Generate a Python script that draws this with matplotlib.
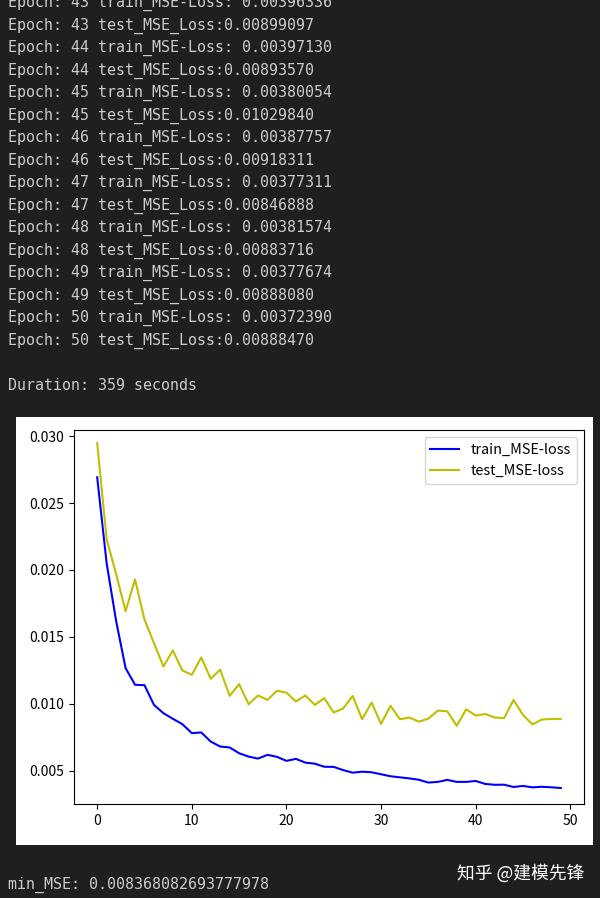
import matplotlib
matplotlib.use("Agg")
import matplotlib.pyplot as plt

# loss values per epoch (last 8 from the printed log)
train_loss = [0.02692, 0.0205, 0.0162, 0.01268, 0.01143, 0.0114, 0.00993, 0.00931, 0.00889, 0.00849,
              0.00782, 0.00787, 0.00719, 0.00682, 0.00675, 0.00632, 0.00607, 0.00592, 0.0062, 0.00605,
              0.00575, 0.0059, 0.00562, 0.00554, 0.00531, 0.0053, 0.00506, 0.00487, 0.00494, 0.0049,
              0.00475, 0.0046, 0.00452, 0.00444, 0.00434, 0.00413, 0.00418, 0.00433, 0.00418, 0.00418,
              0.00425, 0.00403, 0.00396336, 0.0039713, 0.00380054, 0.00387757, 0.00377311, 0.00381574,
              0.00377674, 0.0037239]
test_loss = [0.02948, 0.0223, 0.0197, 0.01692, 0.0193, 0.0163, 0.01454, 0.0128, 0.01399, 0.0125,
             0.01217, 0.01347, 0.01188, 0.01255, 0.0106, 0.01148, 0.00998, 0.01063, 0.0103, 0.01098,
             0.01085, 0.01018, 0.01063, 0.00993, 0.01043, 0.00936, 0.00966, 0.0106, 0.00886, 0.0101,
             0.00851, 0.00986, 0.00886, 0.00898, 0.00868, 0.0089, 0.0095, 0.00945, 0.008368082693777978,
             0.0096, 0.00913, 0.00925, 0.00899097, 0.0089357, 0.0102984, 0.00918311, 0.00846888,
             0.00883716, 0.0088808, 0.0088847]
epochs = list(range(len(train_loss)))
shown_epochs = [43, 44, 45, 46, 47, 48, 49, 50]
duration = 359

W, H = 600, 898
bg = '#1f1f1f'
fg = '#cccccc'
mono = 'DejaVu Sans Mono'

fig = plt.figure(figsize=(W / 100, H / 100), dpi=100, facecolor=bg)

def px(x, y):
    return x / W, 1 - y / H

# console log lines (first one is scrolled half out of view)
y = 3.3
for ep in shown_epochs:
    i = ep - 1
    for line in ["Epoch: {} train_MSE-Loss: {:.8f}".format(ep, train_loss[i]),
                 "Epoch: {} test_MSE_Loss:{:.8f}".format(ep, test_loss[i])]:
        fig.text(*px(8, y), line, color=fg, family=mono, fontsize=10.8, va='center', ha='left')
        y += 22.5
fig.text(*px(8, y + 22.5), "Duration: {} seconds".format(duration), color=fg, family=mono,
         fontsize=10.8, va='center', ha='left')

# white panel of the inline image
panel = fig.add_axes([16 / W, 1 - 845 / H, 577 / W, 428 / H], zorder=-1)
panel.set_facecolor('white')
panel.set_xticks([])
panel.set_yticks([])
for s in panel.spines.values():
    s.set_visible(False)

ax = fig.add_axes([74 / W, 1 - 804 / H, 510 / W, 374 / H])
ax.set_facecolor('white')
ax.plot(epochs, train_loss, color='b', lw=1.5, label='train_MSE-loss')
ax.plot(epochs, test_loss, color='y', lw=1.5, label='test_MSE-loss')
ax.set_ylim(0.00253, 0.03045)
ax.set_xticks([0, 10, 20, 30, 40, 50])
ax.set_yticks([0.005, 0.010, 0.015, 0.020, 0.025, 0.030])
ax.set_yticklabels(['{:.3f}'.format(v) for v in ax.get_yticks()])
for lab in ax.get_xticklabels() + ax.get_yticklabels():
    lab.set_family('Noto Sans CJK SC')
    lab.set_fontsize(10)
leg = ax.legend(loc='upper right', prop={'family': 'Noto Sans CJK SC', 'size': 10.4})

fig.text(*px(8, 885), "min_MSE: {}".format(min(test_loss)), color=fg, family=mono,
         fontsize=10.8, va='center', ha='left')
fig.text(*px(584, 873), "知乎 @建模先锋", color='white', family=['Noto Sans CJK SC', 'DejaVu Sans'],
         fontsize=12.8, va='center', ha='right')

fig.savefig('out.png', dpi=100, facecolor=bg)
